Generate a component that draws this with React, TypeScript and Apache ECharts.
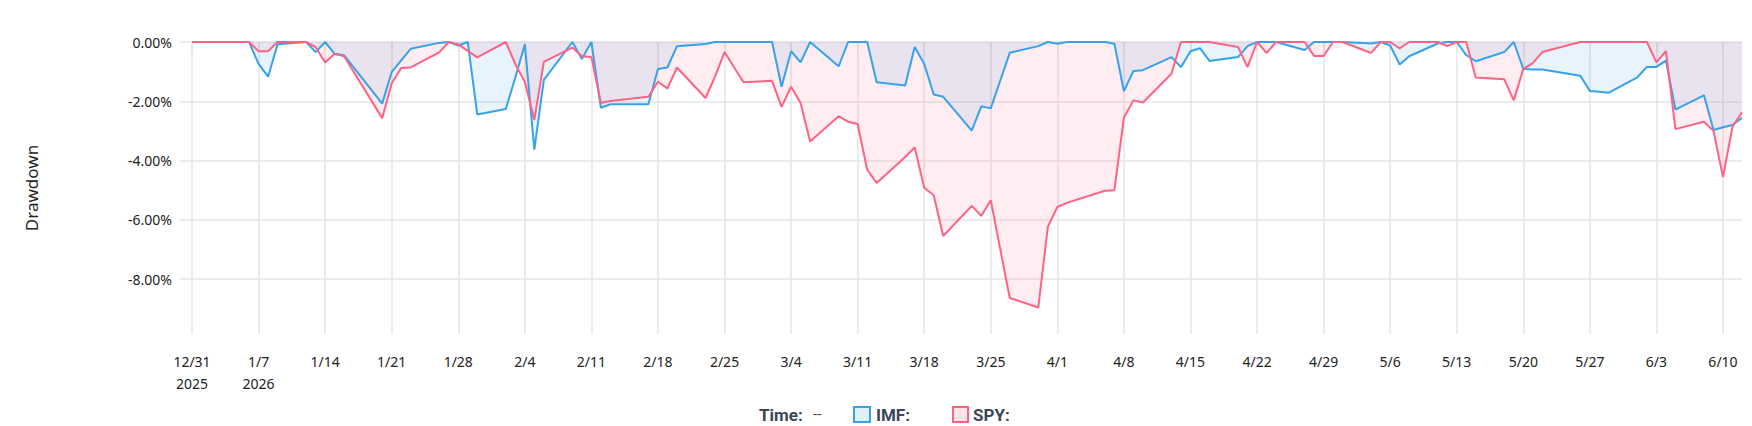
import React, { useEffect, useRef } from "react";
import * as echarts from "echarts";

// Trading days (ISO dates)
const DATES: string[] = [
  "2025-12-31", "2026-01-02", "2026-01-05", "2026-01-06", "2026-01-07", "2026-01-08", "2026-01-09",
  "2026-01-12", "2026-01-13", "2026-01-14", "2026-01-15", "2026-01-16",
  "2026-01-20", "2026-01-21", "2026-01-22", "2026-01-23",
  "2026-01-26", "2026-01-27", "2026-01-28", "2026-01-29", "2026-01-30",
  "2026-02-02", "2026-02-03", "2026-02-04", "2026-02-05", "2026-02-06",
  "2026-02-09", "2026-02-10", "2026-02-11", "2026-02-12", "2026-02-13",
  "2026-02-17", "2026-02-18", "2026-02-19", "2026-02-20",
  "2026-02-23", "2026-02-24", "2026-02-25", "2026-02-26", "2026-02-27",
  "2026-03-02", "2026-03-03", "2026-03-04", "2026-03-05", "2026-03-06",
  "2026-03-09", "2026-03-10", "2026-03-11", "2026-03-12", "2026-03-13",
  "2026-03-16", "2026-03-17", "2026-03-18", "2026-03-19", "2026-03-20",
  "2026-03-23", "2026-03-24", "2026-03-25", "2026-03-26", "2026-03-27",
  "2026-03-30", "2026-03-31", "2026-04-01", "2026-04-02",
  "2026-04-06", "2026-04-07", "2026-04-08", "2026-04-09", "2026-04-10",
  "2026-04-13", "2026-04-14", "2026-04-15", "2026-04-16", "2026-04-17",
  "2026-04-20", "2026-04-21", "2026-04-22", "2026-04-23", "2026-04-24",
  "2026-04-27", "2026-04-28", "2026-04-29", "2026-04-30", "2026-05-01",
  "2026-05-04", "2026-05-05", "2026-05-06", "2026-05-07", "2026-05-08",
  "2026-05-11", "2026-05-12", "2026-05-13", "2026-05-14", "2026-05-15",
  "2026-05-18", "2026-05-19", "2026-05-20", "2026-05-21", "2026-05-22",
  "2026-05-26", "2026-05-27", "2026-05-28", "2026-05-29",
  "2026-06-01", "2026-06-02", "2026-06-03", "2026-06-04", "2026-06-05",
  "2026-06-08", "2026-06-09", "2026-06-10", "2026-06-11", "2026-06-12",
];

// Drawdown in percent
const IMF: number[] = [
  0, 0, 0, 0, -0.74, -1.17, -0.08,
  0, -0.34, 0, -0.4, -0.45,
  -2.08, -1.02, -0.62, -0.23,
  -0.03, 0, -0.12, 0, -2.45,
  -2.26, -1.2, -0.08, -3.63, -1.28,
  0, -0.57, 0, -2.22, -2.1,
  -2.1, -0.91, -0.86, -0.14,
  -0.07, 0, 0, 0, 0,
  0, -1.51, -0.31, -0.69, 0,
  -0.82, 0, 0, 0, -1.36,
  -1.47, -0.17, -0.74, -1.77, -1.85,
  -2.99, -2.17, -2.24, -1.3, -0.36,
  -0.14, 0, -0.06, 0,
  0, -0.06, -1.66, -0.98, -0.95,
  -0.51, -0.85, -0.31, -0.21, -0.64,
  -0.51, -0.14, 0, 0, 0,
  -0.27, 0, 0, 0, 0,
  -0.05, 0, -0.12, -0.76, -0.48,
  -0.05, 0, 0, -0.44, -0.65,
  -0.34, 0, -0.91, -0.93, -0.93,
  -1.14, -1.65, -1.68, -1.71,
  -1.19, -0.84, -0.84, -0.63, -2.28,
  -1.8, -2.97, -2.88, -2.8, -2.56,
];

const SPY: number[] = [
  0, 0, 0, 0, -0.31, -0.31, 0,
  0, -0.17, -0.69, -0.4, -0.48,
  -2.57, -1.39, -0.88, -0.86,
  -0.35, 0, -0.08, -0.3, -0.52,
  0, -0.75, -1.34, -2.63, -0.67,
  -0.19, -0.48, -0.51, -2.06, -1.99,
  -1.85, -1.34, -1.57, -0.86,
  -1.89, -1.17, -0.34, -0.85, -1.36,
  -1.31, -2.19, -1.51, -2.06, -3.36,
  -2.51, -2.69, -2.77, -4.31, -4.76,
  -3.88, -3.56, -4.92, -5.17, -6.55,
  -5.53, -5.87, -5.34, -7.0, -8.64,
  -8.96, -6.24, -5.57, -5.43,
  -5.02, -5.0, -2.55, -1.97, -2.04,
  -1.07, 0, 0, 0, 0,
  -0.17, -0.85, 0, -0.37, 0,
  0, -0.47, -0.47, 0, 0,
  -0.37, 0, 0, -0.22, 0,
  0, -0.14, 0, 0, -1.2,
  -1.26, -1.97, -0.91, -0.71, -0.34,
  0, 0, 0, 0,
  0, 0, -0.69, -0.31, -2.94,
  -2.69, -3.0, -4.56, -2.86, -2.37,
];

const Y_TICKS: number[] = [-8, -6, -4, -2, 0];

const GRID_COLOR = "#e6e6e6";
const TEXT_COLOR = "#222222";
const LEGEND_COLOR = "#3b4657";
const FONT = "'Noto Sans', 'Open Sans', sans-serif";
const IMF_COLOR = "#36a2eb";
const SPY_COLOR = "#ff6384";

const DAY_MS = 86400000;
const ORIGIN = Date.UTC(2025, 11, 31);

function dayIndex(iso: string): number {
  const [y, m, d] = iso.split("-").map(Number);
  return Math.round((Date.UTC(y, m - 1, d) - ORIGIN) / DAY_MS);
}

const X_MAX = dayIndex(DATES[DATES.length - 1]);
const X_TICKS: number[] = [];
for (let v = 0; v <= X_MAX; v += 7) X_TICKS.push(v);

function xLabel(v: number): string {
  const dt = new Date(ORIGIN + v * DAY_MS);
  const prev = new Date(ORIGIN + (v - 7) * DAY_MS);
  const s = `${dt.getUTCMonth() + 1}/${dt.getUTCDate()}`;
  if (v === 0 || prev.getUTCFullYear() !== dt.getUTCFullYear()) {
    return `${s}\n${dt.getUTCFullYear()}`;
  }
  return s;
}

export default function App() {
  const ref = useRef<HTMLDivElement>(null);

  useEffect(() => {
    if (!ref.current) return;
    const chart = echarts.init(ref.current, undefined, { renderer: "svg" });

    const imfData = DATES.map((d, i) => [dayIndex(d), IMF[i]]);
    const spyData = DATES.map((d, i) => [dayIndex(d), SPY[i]]);
    const yMin = Math.min(...IMF, ...SPY) * 1.1;

    const option: any = {
      animation: false,
      backgroundColor: "#ffffff",
      grid: { left: 192, right: 10, top: 42, bottom: 92, containLabel: false },
      xAxis: {
        type: "value",
        min: 0,
        max: X_MAX,
        interval: 7,
        axisLine: { show: false },
        axisTick: {
          show: true,
          length: 10,
          customValues: X_TICKS,
          lineStyle: { color: GRID_COLOR, width: 1.5 },
        },
        axisLabel: {
          customValues: X_TICKS,
          formatter: xLabel,
          margin: 16,
          fontSize: 14,
          lineHeight: 22,
          color: TEXT_COLOR,
          fontFamily: FONT,
        },
        splitLine: {
          show: true,
          lineStyle: { color: GRID_COLOR, width: 1.5 },
        },
      },
      yAxis: {
        type: "value",
        min: yMin,
        max: 0,
        splitNumber: 5,
        name: "Drawdown",
        nameLocation: "middle",
        nameGap: 152,
        nameTextStyle: { fontSize: 17, color: TEXT_COLOR, fontFamily: FONT },
        axisLine: { show: false },
        axisTick: {
          show: true,
          length: 12,
          customValues: Y_TICKS,
          lineStyle: { color: GRID_COLOR, width: 1.5 },
        },
        axisLabel: {
          customValues: Y_TICKS,
          formatter: (v: number) => `${v.toFixed(2)}%`,
          margin: 20,
          fontSize: 14,
          color: TEXT_COLOR,
          fontFamily: FONT,
        },
        splitLine: {
          show: true,
          lineStyle: { color: GRID_COLOR, width: 1.5 },
        },
      },
      series: [
        {
          name: "IMF",
          type: "line",
          data: imfData,
          symbol: "none",
          lineStyle: { color: IMF_COLOR, width: 2 },
          itemStyle: { color: IMF_COLOR },
          areaStyle: { color: "rgba(54,162,235,0.17)" },
        },
        {
          name: "SPY",
          type: "line",
          data: spyData,
          symbol: "none",
          lineStyle: { color: SPY_COLOR, width: 2 },
          itemStyle: { color: SPY_COLOR },
          areaStyle: { color: "rgba(255,99,132,0.17)" },
        },
      ],
      graphic: [
        {
          type: "text",
          x: 759,
          y: 415,
          style: {
            text: "Time:",
            fontSize: 17,
            fontWeight: "bold",
            fontFamily: "Roboto, sans-serif",
            fill: LEGEND_COLOR,
            verticalAlign: "middle",
          },
        },
        {
          type: "text",
          x: 813,
          y: 414,
          style: {
            text: "--",
            fontSize: 15,
            fontFamily: "Roboto, sans-serif",
            fill: LEGEND_COLOR,
            verticalAlign: "middle",
          },
        },
        {
          type: "rect",
          x: 854,
          y: 407,
          shape: { x: 0, y: 0, width: 16, height: 15 },
          style: { fill: "rgba(54,162,235,0.17)", stroke: IMF_COLOR, lineWidth: 2 },
        },
        {
          type: "text",
          x: 876,
          y: 415,
          style: {
            text: "IMF:",
            fontSize: 17,
            fontWeight: "bold",
            fontFamily: "Roboto, sans-serif",
            fill: LEGEND_COLOR,
            verticalAlign: "middle",
          },
        },
        {
          type: "rect",
          x: 953,
          y: 407,
          shape: { x: 0, y: 0, width: 15, height: 15 },
          style: { fill: "rgba(255,99,132,0.17)", stroke: SPY_COLOR, lineWidth: 2 },
        },
        {
          type: "text",
          x: 973,
          y: 415,
          style: {
            text: "SPY:",
            fontSize: 17,
            fontWeight: "bold",
            fontFamily: "Roboto, sans-serif",
            fill: LEGEND_COLOR,
            verticalAlign: "middle",
          },
        },
      ],
    };

    chart.setOption(option);
    return () => chart.dispose();
  }, []);

  return (
    <div
      ref={ref}
      style={{ position: "fixed", left: 0, top: 0, width: 1752, height: 426, background: "#fff" }}
    />
  );
}
